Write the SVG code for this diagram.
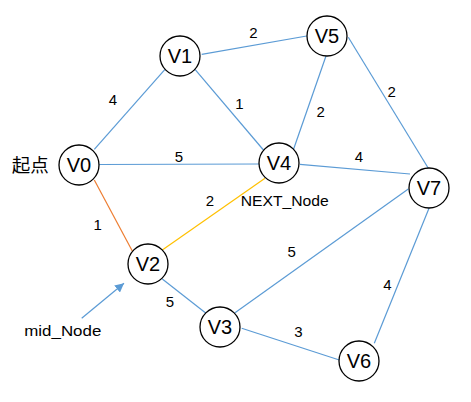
<svg xmlns="http://www.w3.org/2000/svg" width="471" height="402" viewBox="0 0 471 402">
<style>
.e{stroke:#5B9BD5;stroke-width:1.2;fill:none}
.n circle{fill:#fff;stroke:#000;stroke-width:1.3}
.n text{font-family:"Liberation Sans",Arial,sans-serif;font-size:20px;text-anchor:middle;fill:#000}
.w{font-family:"Liberation Sans",Arial,sans-serif;font-size:15px;text-anchor:middle;fill:#000}
.t{font-family:"Liberation Sans",Arial,sans-serif;font-size:15.5px;fill:#000}
</style>
<defs>
<marker id="ah" viewBox="0 0 10 10" refX="10" refY="5" markerWidth="9" markerHeight="9" markerUnits="userSpaceOnUse" orient="auto">
<path d="M0,0 L10,5 L0,10 z" fill="#5B9BD5"/>
</marker>
</defs>
<rect width="471" height="402" fill="#fff"/>
<g id="connectors">
<line class="e" x1="94.3" y1="149.3" x2="165" y2="69.3"/>
<line class="e" x1="99.3" y1="164.5" x2="259.3" y2="164"/>
<line x1="94.3" y1="180" x2="132.7" y2="251.7" stroke="#ED7D31" stroke-width="1.2"/>
<line x1="162.3" y1="250" x2="265" y2="178.3" stroke="#FFC000" stroke-width="1.2"/>
<line class="e" x1="201.7" y1="54.3" x2="306.7" y2="36"/>
<line class="e" x1="195" y1="69.3" x2="264.3" y2="151"/>
<line class="e" x1="326" y1="56" x2="293.3" y2="150"/>
<line class="e" x1="348.3" y1="37.3" x2="428.3" y2="168.3"/>
<line class="e" x1="300" y1="164.3" x2="410" y2="174"/>
<line class="e" x1="408.3" y1="189" x2="235" y2="312.7"/>
<line class="e" x1="429" y1="208.3" x2="374.3" y2="343.3"/>
<line class="e" x1="241.7" y1="328.3" x2="339.3" y2="360"/>
<line class="e" x1="162.3" y1="279" x2="206" y2="313.3"/>
<line class="e" x1="81.7" y1="318.3" x2="124" y2="283.3" marker-end="url(#ah)"/>
</g>
<g id="edge-labels">
<text class="w" x="113" y="105">4</text>
<text class="w" x="253.3" y="37.5">2</text>
<text class="w" x="239.3" y="108.5">1</text>
<text class="w" x="320.7" y="117">2</text>
<text class="w" x="391.7" y="96.5">2</text>
<text class="w" x="179" y="162">5</text>
<text class="w" x="359" y="161.5">4</text>
<text class="w" x="210" y="205.5">2</text>
<text class="w" x="97.7" y="229.5">1</text>
<text class="w" x="170" y="306.5">5</text>
<text class="w" x="291.7" y="257">5</text>
<text class="w" x="387.3" y="289.5">4</text>
<text class="w" x="298.3" y="336.5">3</text>
</g>
<g id="V0" class="n"><circle cx="79" cy="165" r="20"/><text x="79" y="172">V0</text></g>
<g id="V1" class="n"><circle cx="180" cy="56" r="20"/><text x="180" y="63">V1</text></g>
<g id="V5" class="n"><circle cx="327" cy="36" r="20"/><text x="327" y="43">V5</text></g>
<g id="V4" class="n"><circle cx="279" cy="163" r="20"/><text x="279" y="170">V4</text></g>
<g id="V7" class="n"><circle cx="429" cy="188" r="20"/><text x="429" y="195">V7</text></g>
<g id="V2" class="n"><circle cx="148" cy="264" r="20"/><text x="148" y="271">V2</text></g>
<g id="V3" class="n"><circle cx="220" cy="327" r="20"/><text x="220" y="334">V3</text></g>
<g id="V6" class="n"><circle cx="359" cy="361" r="20"/><text x="359" y="368">V6</text></g>
<g id="annotations">
<text x="11.7" y="172" font-family="'Noto Sans CJK SC',sans-serif" font-size="18.5px" fill="#000">起点</text>
<text class="t" x="240.7" y="205.7" textLength="88" lengthAdjust="spacingAndGlyphs">NEXT_Node</text>
<text class="t" x="24.3" y="335.7" textLength="77" lengthAdjust="spacingAndGlyphs">mid_Node</text>
</g>
</svg>
